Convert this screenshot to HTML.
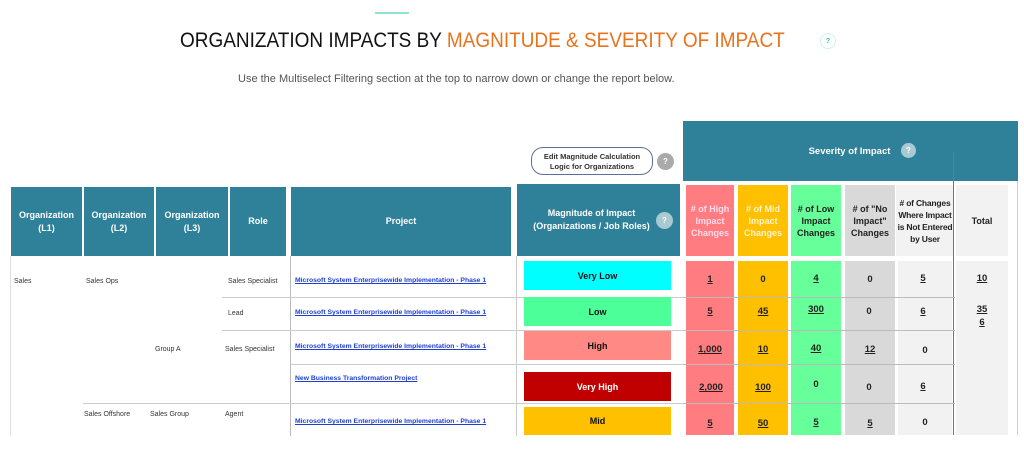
<!DOCTYPE html>
<html><head><meta charset="utf-8"><style>
body{margin:0;width:1024px;height:449px;background:#fff;position:relative;overflow:hidden;font-family:"Liberation Sans",Arial,sans-serif}
div{position:absolute;box-sizing:border-box}
.h{background:#2e8199;color:#fff;font-weight:bold;font-size:9px;display:flex;align-items:center;justify-content:center;text-align:center;line-height:13px}
.t{font-size:7px;color:#333}
.lk{font-size:6.8px;color:#1f3fd0;font-weight:bold;text-decoration:underline;left:295px;white-space:nowrap}
.c{display:flex;align-items:center;justify-content:center;text-align:center;font-weight:bold;font-size:9px;line-height:12px}
.v{font-size:9.5px;font-weight:bold;color:#222;text-align:center}
.u{text-decoration:underline}
.hl{height:1px;background:#ccc}
.q{border-radius:50%;color:#fff;font-size:8px;font-weight:bold;display:flex;align-items:center;justify-content:center}
</style></head><body>
<div style="left:375px;top:12px;width:34px;height:2px;background:#8fe3cf"></div>
<div style="left:180px;top:28px;font-size:21.5px;color:#111;white-space:nowrap;transform:scaleX(0.883);transform-origin:0 0">ORGANIZATION IMPACTS BY <span style="color:#e8731c">MAGNITUDE &amp; SEVERITY OF IMPACT</span></div>
<div class="q" style="left:820px;top:33px;width:16px;height:16px;border:1px solid #c9f3e8;color:#2bb;font-size:7px">?</div>
<div style="left:238px;top:73px;font-size:11px;color:#555;white-space:nowrap">Use the Multiselect Filtering section at the top to narrow down or change the report below.</div>

<div class="h" style="left:11px;top:187px;width:71px;height:69px">Organization<br>(L1)</div>
<div class="h" style="left:84px;top:187px;width:70px;height:69px">Organization<br>(L2)</div>
<div class="h" style="left:156px;top:187px;width:72px;height:69px">Organization<br>(L3)</div>
<div class="h" style="left:230px;top:187px;width:56px;height:69px">Role</div>
<div class="h" style="left:291px;top:187px;width:220px;height:69px">Project</div>
<div style="left:290px;top:256px;width:1px;height:180px;background:#bbb"></div>
<div style="left:10px;top:256px;width:1px;height:180px;background:#ddd"></div>
<div style="left:516px;top:256px;width:1px;height:180px;background:#ccc"></div>

<div class="t" style="left:14px;top:278px">Sales</div>
<div class="t" style="left:86px;top:278px">Sales Ops</div>
<div class="t" style="left:228px;top:278px">Sales Specialist</div>
<div class="t" style="left:228px;top:310px">Lead</div>
<div class="t" style="left:155px;top:346px">Group A</div>
<div class="t" style="left:225px;top:346px">Sales Specialist</div>
<div class="t" style="left:84px;top:411px">Sales Offshore</div>
<div class="t" style="left:150px;top:411px">Sales Group</div>
<div class="t" style="left:225px;top:411px">Agent</div>

<div class="hl" style="left:222px;top:297px;width:733px"></div>
<div class="hl" style="left:222px;top:330px;width:733px"></div>
<div class="hl" style="left:290px;top:364px;width:665px"></div>
<div class="hl" style="left:83px;top:403px;width:872px"></div>

<div class="lk" style="top:277px">Microsoft System Enterprisewide Implementation - Phase 1</div>
<div class="lk" style="top:309px">Microsoft System Enterprisewide Implementation - Phase 1</div>
<div class="lk" style="top:343px">Microsoft System Enterprisewide Implementation - Phase 1</div>
<div class="lk" style="top:375px">New Business Transformation Project</div>
<div class="lk" style="top:418px">Microsoft System Enterprisewide Implementation - Phase 1</div>

<div style="left:531px;top:147px;width:122px;height:28px;border:1.5px solid #5a6fa0;border-radius:12px;font-size:7.5px;font-weight:bold;color:#333;text-align:center;line-height:10px;padding-top:4px">Edit Magnitude Calculation<br>Logic for Organizations</div>
<div class="q" style="left:657px;top:153px;width:17px;height:17px;background:#aaa">?</div>
<div class="h" style="left:517px;top:184px;width:163px;height:72px;padding-right:14px">Magnitude of Impact<br>(Organizations / Job Roles)</div>
<div class="q" style="left:656px;top:212px;width:17px;height:17px;background:#a9c9d3">?</div>

<div class="c" style="left:524px;top:261px;width:147px;height:29px;background:#00ffff;color:#111">Very Low</div>
<div class="c" style="left:524px;top:297px;width:147px;height:29px;background:#4dff99;color:#111">Low</div>
<div class="c" style="left:524px;top:331px;width:147px;height:29px;background:#ff8a85;color:#111">High</div>
<div class="c" style="left:524px;top:372px;width:147px;height:29px;background:#c00000;color:#fff">Very High</div>
<div class="c" style="left:524px;top:407px;width:147px;height:28px;background:#ffc000;color:#111">Mid</div>

<div class="h" style="left:683px;top:121px;width:335px;height:60px;font-size:9.5px;padding-right:2px">Severity of Impact</div>
<div class="q" style="left:901px;top:143px;width:15px;height:15px;background:#a9c9d3">?</div>

<div class="c" style="left:686px;top:185px;width:48px;height:71px;background:#ff7c80;color:#fde">#&nbsp;of High Impact Changes</div>
<div class="c" style="left:738px;top:185px;width:50px;height:71px;background:#ffc000;color:#fff3d0"># of Mid Impact Changes</div>
<div class="c" style="left:791px;top:185px;width:50px;height:71px;background:#66ff99;color:#222"># of Low Impact Changes</div>
<div class="c" style="left:845px;top:185px;width:50px;height:71px;background:#d9d9d9;color:#222"># of "No Impact" Changes</div>
<div class="c" style="left:896px;top:185px;width:58px;height:71px;background:#f2f2f2;color:#222;font-size:8.5px;letter-spacing:-0.2px"># of Changes Where Impact is Not Entered by User</div>
<div class="c" style="left:956px;top:185px;width:52px;height:71px;background:#f2f2f2;color:#222">Total</div>

<div style="left:686px;top:261px;width:48px;height:174px;background:#ff7c80"></div>
<div style="left:738px;top:261px;width:50px;height:174px;background:#ffc000"></div>
<div style="left:791px;top:261px;width:50px;height:174px;background:#66ff99"></div>
<div style="left:845px;top:261px;width:50px;height:174px;background:#d9d9d9"></div>
<div style="left:898px;top:261px;width:54px;height:174px;background:#f2f2f2"></div>
<div style="left:956px;top:261px;width:52px;height:174px;background:#f2f2f2"></div>
<div style="left:953px;top:152px;width:1px;height:283px;background:#777"></div>
<div style="left:1017px;top:181px;width:1px;height:254px;background:#ccc"></div>
<div class="hl" style="left:683px;top:297px;width:272px;background:#bbb"></div>
<div class="hl" style="left:683px;top:330px;width:272px;background:#bbb"></div>
<div class="hl" style="left:683px;top:364px;width:272px;background:#bbb"></div>
<div class="hl" style="left:683px;top:403px;width:272px;background:#bbb"></div>

<div class="v u" style="left:686px;width:48px;top:274px">1</div>
<div class="v" style="left:738px;width:50px;top:274px">0</div>
<div class="v u" style="left:791px;width:50px;top:273px">4</div>
<div class="v" style="left:845px;width:50px;top:274px">0</div>
<div class="v u" style="left:898px;width:50px;top:273px">5</div>
<div class="v u" style="left:956px;width:52px;top:273px">10</div>

<div class="v u" style="left:686px;width:48px;top:306px">5</div>
<div class="v u" style="left:738px;width:50px;top:306px">45</div>
<div class="v u" style="left:791px;width:50px;top:304px">300</div>
<div class="v" style="left:845px;width:48px;top:306px">0</div>
<div class="v u" style="left:898px;width:50px;top:306px">6</div>
<div class="v u" style="left:956px;width:52px;top:303px;line-height:13px">35<br>6</div>

<div class="v u" style="left:686px;width:48px;top:344px">1,000</div>
<div class="v u" style="left:738px;width:50px;top:344px">10</div>
<div class="v u" style="left:791px;width:50px;top:343px">40</div>
<div class="v u" style="left:845px;width:50px;top:344px">12</div>
<div class="v" style="left:898px;width:54px;top:345px">0</div>

<div class="v u" style="left:686px;width:50px;top:382px">2,000</div>
<div class="v u" style="left:738px;width:50px;top:382px">100</div>
<div class="v" style="left:791px;width:50px;top:379px">0</div>
<div class="v" style="left:845px;width:48px;top:382px">0</div>
<div class="v u" style="left:898px;width:50px;top:381px">6</div>

<div class="v u" style="left:686px;width:48px;top:418px">5</div>
<div class="v u" style="left:738px;width:50px;top:418px">50</div>
<div class="v u" style="left:791px;width:50px;top:417px">5</div>
<div class="v u" style="left:845px;width:50px;top:418px">5</div>
<div class="v" style="left:898px;width:54px;top:417px">0</div>
</body></html>
